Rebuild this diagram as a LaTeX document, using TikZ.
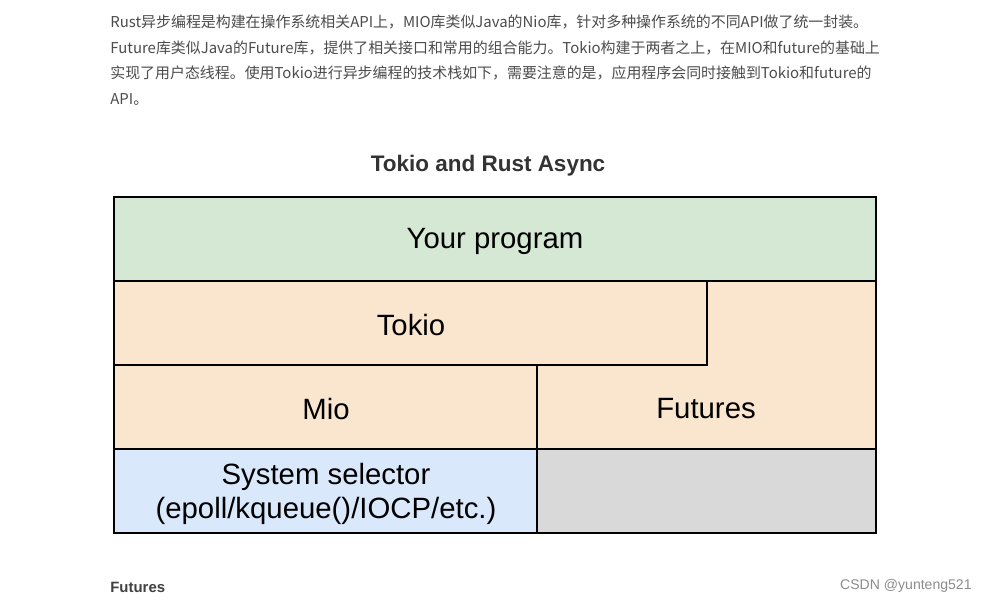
\documentclass[tikz,border=0pt]{standalone}
\usepackage{fontspec}
\setmainfont{Liberation Sans}
\newfontfamily\cjk{Noto Sans CJK SC}
\tikzset{
	layer/.style={draw=black, line width=1.1pt}, % Bloques de la pila
	lbl/.style={font=\fontsize{16.7}{19}\selectfont, align=center}, % Texto de los bloques
	para/.style={anchor=west, inner sep=0pt, text=black!70, font=\cjk\fontsize{8.5}{10}\selectfont}
}
\definecolor{prog}{HTML}{D5E8D4}
\definecolor{rt}{HTML}{FAE6CF}
\definecolor{sys}{HTML}{DAE8FC}
\definecolor{none}{HTML}{D9D9D9}

\begin{document}
\begin{tikzpicture}[x=0.02cm, y=-0.02cm]
				\useasboundingbox[fill=white] (0,0) rectangle (987,604);
				
				\node[para] (l1) at (110,22) {Rust异步编程是构建在操作系统相关API上，MIO库类似Java的Nio库，针对多种操作系统的不同API做了统一封装。};
				\node[para] (l2) at (110,48) {Future库类似Java的Future库，提供了相关接口和常用的组合能力。Tokio构建于两者之上，在MIO和future的基础上};
				\node[para] (l3) at (110,73) {实现了用户态线程。使用Tokio进行异步编程的技术栈如下，需要注意的是，应用程序会同时接触到Tokio和future的};
				\node[para] (l4) at (110,99) {API。};
				
				\node[font=\bfseries\fontsize{12.8}{14}\selectfont, text=black!80] (title) at (488,166) {Tokio and Rust Async};
				
				\fill[prog] (114,197) rectangle (876,281);
				\fill[rt] (114,281) rectangle (876,449);
				\fill[sys] (114,449) rectangle (537,533);
				\fill[none] (537,449) rectangle (876,533);
				\draw[layer] (114,197) rectangle (876,533);
				\draw[layer] (114,281) -- (876,281);
				\draw[layer] (707,281) -- (707,365) -- (114,365);
				\draw[layer] (114,449) -- (876,449);
				\draw[layer] (537,365) -- (537,533);
				
				\node[lbl] (prg) at (495,241) {Your program};
				\node[lbl] (tok) at (411,325) {Tokio};
				\node[lbl] (mio) at (326,409) {Mio};
				\node[lbl] (fut) at (706,409) {Futures};
				\node[lbl] (sel) at (326,494) {System selector\\(epoll/kqueue()/IOCP/etc.)};
				
				\node[anchor=west, inner sep=0pt, font=\bfseries\fontsize{8.5}{10}\selectfont, text=black!75] (fh) at (110,587) {Futures};
				\node[anchor=east, inner sep=0pt, font=\fontsize{8}{10}\selectfont, text=black!45] (wm) at (972,586) {CSDN @yunteng521};
			\end{tikzpicture}
\end{document}
